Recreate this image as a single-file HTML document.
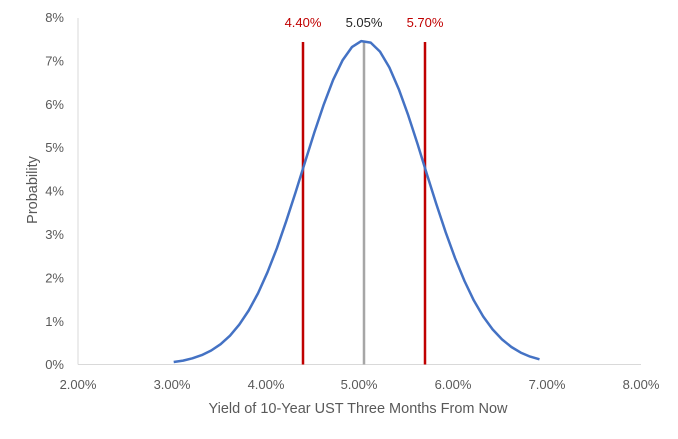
<!DOCTYPE html>
<html><head><meta charset="utf-8"><style>
body{margin:0;background:#fff}
svg{display:block;font-family:"Liberation Sans",Calibri,sans-serif}
</style></head><body>
<svg width="678" height="439" viewBox="0 0 678 439" xmlns="http://www.w3.org/2000/svg">
<g fill="#595959" font-size="13">
<g text-anchor="end">
<text x="64" y="22">8%</text>
<text x="64" y="65.5">7%</text>
<text x="64" y="109">6%</text>
<text x="64" y="152">5%</text>
<text x="64" y="195.5">4%</text>
<text x="64" y="239">3%</text>
<text x="64" y="282.5">2%</text>
<text x="64" y="326">1%</text>
<text x="64" y="369">0%</text>
</g>
<g text-anchor="middle">
<text x="78" y="389">2.00%</text>
<text x="172" y="389">3.00%</text>
<text x="266" y="389">4.00%</text>
<text x="359" y="389">5.00%</text>
<text x="453" y="389">6.00%</text>
<text x="547" y="389">7.00%</text>
<text x="641" y="389">8.00%</text>
</g>
<text x="358" y="413" font-size="14.5" text-anchor="middle">Yield of 10-Year UST Three Months From Now</text>
<text transform="translate(37,190) rotate(-90)" font-size="14.5" text-anchor="middle">Probability</text>
</g>
<line x1="78" y1="18" x2="78" y2="364.5" stroke="#d9d9d9" stroke-width="1"/>
<line x1="78" y1="364.5" x2="641" y2="364.5" stroke="#d9d9d9" stroke-width="1"/>
<line x1="364" y1="42" x2="364" y2="364.5" stroke="#a6a6a6" stroke-width="2.5"/>
<line x1="303" y1="42" x2="303" y2="364.5" stroke="#c00000" stroke-width="2.5"/>
<line x1="425" y1="42" x2="425" y2="364.5" stroke="#c00000" stroke-width="2.5"/>
<polyline id="c" fill="none" stroke="#4472c4" stroke-width="2.5" stroke-linejoin="round" points=""/>
<text x="303" y="27" font-size="13" fill="#c00000" text-anchor="middle">4.40%</text>
<text x="364" y="27" font-size="13" fill="#262626" text-anchor="middle">5.05%</text>
<text x="425" y="27" font-size="13" fill="#c00000" text-anchor="middle">5.70%</text>
<script>
var p=[];
for(var k=0;k<=39;k++){var x=3.02+k*0.1;if(x>6.96)x=6.95;var z=(x-5.05)/0.65;var y=7.46*Math.exp(-0.5*z*z);
p.push((78+(x-2)*93.8).toFixed(1)+","+(364.5-y*43.4).toFixed(1));}
document.getElementById("c").setAttribute("points",p.join(" "));
</script>
</svg>
</body></html>
